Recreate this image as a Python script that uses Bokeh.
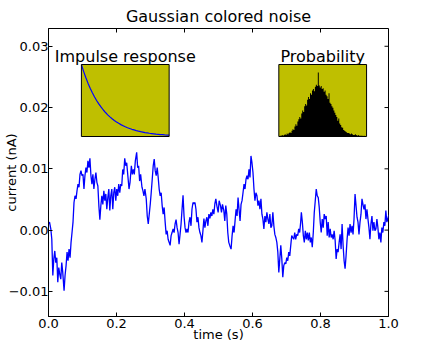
import math
from bokeh.plotting import figure
from bokeh.models import Range1d, LinearAxis, FixedTicker, Label, Title
from bokeh.embed import file_html
from bokeh.resources import INLINE

# ---------------- data ----------------
time_s = [
    0.0, 0.003, 0.0068, 0.0097, 0.0127, 0.0156, 0.0185, 0.0214, 0.0244, 0.0273,
    0.0302, 0.0331, 0.0361, 0.039, 0.0419, 0.0458, 0.0487, 0.0517, 0.0546, 0.0575,
    0.0604, 0.0634, 0.0663, 0.0692, 0.0721, 0.075, 0.078, 0.081, 0.0838, 0.0867,
    0.0897, 0.0926, 0.0955, 0.0984, 0.1014, 0.1043, 0.1072, 0.1101, 0.113, 0.116,
    0.1189, 0.1218, 0.1248, 0.1277, 0.1306, 0.1335, 0.1365, 0.1394, 0.1423, 0.1452,
    0.1481, 0.1511, 0.154, 0.1569, 0.1598, 0.1628, 0.1657, 0.1686, 0.1715, 0.1745,
    0.1774, 0.1803, 0.1832, 0.1862, 0.1891, 0.192, 0.1949, 0.1979, 0.2008, 0.2037,
    0.2066, 0.2096, 0.2125, 0.2154, 0.2183, 0.2212, 0.2242, 0.2271, 0.23,
    0.2368, 0.2398, 0.2437, 0.2466, 0.2495, 0.2524, 0.2554, 0.2593, 0.2622, 0.2651,
    0.268, 0.271, 0.2749, 0.2778, 0.2807, 0.2836, 0.2875, 0.2904, 0.2934, 0.2963,
    0.2992, 0.3021, 0.3051, 0.308, 0.3109, 0.3138, 0.3168, 0.3197, 0.3226, 0.3255,
    0.3285, 0.3314, 0.3343, 0.3372, 0.3401, 0.3431, 0.346, 0.3489, 0.3518, 0.3548,
    0.3577, 0.3606, 0.3635, 0.3665, 0.3694, 0.3723, 0.3752, 0.3782, 0.3811, 0.384,
    0.3869, 0.3899, 0.3928, 0.3957, 0.3986, 0.4016, 0.4045, 0.4074, 0.4103, 0.4133,
    0.4162, 0.4191, 0.422, 0.425, 0.4279, 0.4308, 0.4337, 0.4366, 0.4396, 0.4425,
    0.4454, 0.4483, 0.4513, 0.4542, 0.4571, 0.46, 0.463, 0.4659, 0.4688, 0.4717,
    0.4747, 0.4776, 0.4805, 0.4834, 0.4864, 0.4893, 0.4922,
    0.4951, 0.499, 0.5019, 0.5058, 0.5088, 0.5117, 0.5156, 0.5185, 0.5214, 0.5244,
    0.5273, 0.5302, 0.5331, 0.537, 0.54, 0.5429, 0.5458, 0.5487, 0.5517, 0.5546,
    0.5575, 0.5604, 0.5634, 0.5663, 0.5692, 0.5721, 0.5751, 0.578, 0.5809, 0.5838,
    0.5868, 0.5897, 0.5926, 0.5955, 0.5984, 0.6014, 0.6043, 0.6072, 0.6101, 0.6131,
    0.616, 0.6189, 0.6218, 0.6248, 0.6277, 0.6306, 0.6335, 0.6365, 0.6394, 0.6423,
    0.6452, 0.6482, 0.6511, 0.654, 0.6569, 0.6599, 0.6628, 0.6657, 0.6686, 0.6716,
    0.6745, 0.6774, 0.6803, 0.6832, 0.6862, 0.6891, 0.692, 0.6949, 0.6979, 0.7008,
    0.7037, 0.7066, 0.7096, 0.7125, 0.7154, 0.7183, 0.7213, 0.7242, 0.7271, 0.73,
    0.733, 0.7359, 0.7388, 0.7417,
    0.7437, 0.7466, 0.7495, 0.7524, 0.7554, 0.7583, 0.7612, 0.7641, 0.7671, 0.77,
    0.7729, 0.7758, 0.7788, 0.7817, 0.7846, 0.7875, 0.7904, 0.7934, 0.7963, 0.7992,
    0.8021, 0.8051, 0.808, 0.8109, 0.8138, 0.8168, 0.8197, 0.8226, 0.8255, 0.8285,
    0.8314, 0.8343, 0.8372, 0.8401, 0.8431, 0.846, 0.8489, 0.8518, 0.8548, 0.8577,
    0.8606, 0.8635, 0.8665, 0.8694, 0.8723, 0.8752, 0.8782, 0.8811, 0.884, 0.8869,
    0.8899, 0.8928, 0.8957, 0.8986, 0.9016, 0.9045, 0.9074, 0.9103, 0.9132, 0.9162,
    0.9191, 0.922, 0.9249, 0.9279, 0.9308, 0.9337, 0.9366, 0.9396, 0.9425, 0.9454,
    0.9483, 0.9513, 0.9542, 0.9571, 0.96, 0.963, 0.9659, 0.9688, 0.9717, 0.9747,
    0.9776, 0.9805, 0.9834, 0.9864, 0.9893, 0.9922, 0.9951, 0.998, 1.0009,
]
current_nA = [
    0.0010, 0.0013, 0.0002, -0.0015, -0.0074, -0.0047, -0.0034, -0.0053, -0.0045, -0.0085,
    -0.0061, -0.0072, -0.0080, -0.0053, -0.0069, -0.0099, -0.0074, -0.0058, -0.0036, -0.0050,
    -0.0031, -0.0045, -0.0020, -0.0004, 0.0013, 0.0045, 0.0056, 0.0051, 0.0064, 0.0075,
    0.0070, 0.0091, 0.0097, 0.0089, 0.0091, 0.0067, 0.0089, 0.0102, 0.0094, 0.0113,
    0.0102, 0.0117, 0.0089, 0.0075, 0.0091, 0.0067, 0.0083, 0.0094, 0.0078, 0.0072,
    0.0040, 0.0017, 0.0040, 0.0056, 0.0042, 0.0064, 0.0048, 0.0059, 0.0034, 0.0053,
    0.0067, 0.0032, 0.0056, 0.0067, 0.0034, 0.0061, 0.0070, 0.0048, 0.0067, 0.0056,
    0.0075, 0.0061, 0.0075, 0.0072, 0.0099, 0.0091, 0.0117, 0.0105, 0.0110,
    0.0067, 0.0078, 0.0105, 0.0091, 0.0099, 0.0091, 0.0113, 0.0127, 0.0102, 0.0105,
    0.0080, 0.0091, 0.0070, 0.0064, 0.0056, 0.0067, 0.0051, 0.0023, 0.0010, 0.0026,
    0.0042, 0.0061, 0.0083, 0.0105, 0.0116, 0.0097, 0.0089, 0.0102, 0.0086, 0.0067,
    0.0056, 0.0061, 0.0040, 0.0026, 0.0037, 0.0013, -0.0007, -0.0001, -0.0015, -0.0020,
    -0.0025, -0.0009, -0.0004, 0.0002, -0.0004, 0.0010, 0.0017, 0.0004, -0.0004, -0.0023,
    -0.0007, 0.0010, 0.0034, 0.0057, 0.0023, 0.0004, -0.0004, 0.0002, -0.0004, 0.0013,
    0.0021, 0.0007, 0.0034, 0.0045, 0.0043, 0.0045, 0.0034, 0.0013, 0.0021, 0.0004,
    -0.0004, -0.0009, -0.0020, -0.0001, 0.0019, 0.0004, 0.0015, 0.0021, 0.0007, 0.0026,
    0.0019, 0.0029, 0.0023, 0.0034, 0.0026, 0.0043, 0.0051,
    0.0040, 0.0029, 0.0048, 0.0040, 0.0029, 0.0042, 0.0032, 0.0015, 0.0040, 0.0026,
    -0.0004, -0.0020, -0.0025, -0.0031, -0.0009, 0.0007, -0.0004, 0.0015, 0.0034, 0.0023,
    0.0053, 0.0034, 0.0015, 0.0042, 0.0048, 0.0061, 0.0075, 0.0067, 0.0083, 0.0089,
    0.0083, 0.0099, 0.0086, 0.0121, 0.0110, 0.0094, 0.0067, 0.0048, 0.0061, 0.0056,
    0.0040, 0.0048, 0.0034, 0.0051, 0.0026, 0.0018, 0.0002, 0.0023, 0.0013, 0.0029,
    0.0018, 0.0010, 0.0026, 0.0004, 0.0007, 0.0029, 0.0007, -0.0007, -0.0012, -0.0020,
    -0.0036, -0.0069, -0.0047, -0.0025, -0.0047, -0.0077, -0.0058, -0.0053, -0.0055, -0.0045,
    -0.0050, -0.0036, -0.0042, -0.0025, -0.0009, -0.0012, -0.0015, -0.0004, -0.0015, -0.0007,
    -0.0009, 0.0002, -0.0004, 0.0013,
    0.0029, 0.0013, -0.0009, -0.0020, -0.0001, -0.0015, -0.0004, -0.0017, -0.0004, -0.0020,
    -0.0012, -0.0028, -0.0004, 0.0029, 0.0048, 0.0067, 0.0056, 0.0053, 0.0037, 0.0013,
    -0.0004, 0.0018, 0.0004, 0.0026, 0.0018, 0.0023, -0.0009, 0.0013, -0.0012, 0.0002,
    -0.0012, -0.0007, -0.0015, -0.0001, -0.0017, -0.0047, -0.0031, -0.0036, -0.0020, -0.0007,
    -0.0031, 0.0010, -0.0025, -0.0050, -0.0063, -0.0042, -0.0015, 0.0004, -0.0009, 0.0010,
    -0.0004, 0.0007, -0.0007, 0.0018, 0.0059, 0.0040, 0.0021, 0.0013, -0.0007, 0.0013,
    0.0026, 0.0051, 0.0042, 0.0034, 0.0042, 0.0018, 0.0034, 0.0018, 0.0004, -0.0015,
    0.0010, 0.0023, -0.0001, 0.0013, -0.0001, 0.0002, 0.0018, 0.0004, -0.0015, -0.0004,
    -0.0020, 0.0004, -0.0004, 0.0013, 0.0007, 0.0032, 0.0013, 0.0018, 0.0025,
]

# impulse response (inset 1)
ir_time = [
    0.0, 0.005, 0.01, 0.015, 0.02, 0.025, 0.03, 0.035, 0.04, 0.045,
    0.05, 0.055, 0.06, 0.065, 0.07, 0.075, 0.08, 0.085, 0.09, 0.095,
    0.1, 0.105, 0.11, 0.115, 0.12, 0.125, 0.13, 0.135, 0.14, 0.145,
    0.15, 0.155, 0.16, 0.165, 0.17, 0.175, 0.18, 0.185, 0.19, 0.195, 0.2,
]
ir_value = [
    1.000, 0.905, 0.819, 0.741, 0.670, 0.607, 0.549, 0.497, 0.449, 0.407,
    0.368, 0.333, 0.301, 0.273, 0.247, 0.223, 0.202, 0.183, 0.165, 0.150,
    0.135, 0.122, 0.111, 0.100, 0.091, 0.082, 0.074, 0.067, 0.061, 0.055,
    0.050, 0.045, 0.041, 0.037, 0.033, 0.030, 0.027, 0.025, 0.022, 0.020, 0.018,
]
ir_xlim = (0.0, 0.2)
ir_ylim = (0.0, 1.0)

# histogram of the noise (inset 2), equal-width bins between hist_lo and hist_hi
hist_lo, hist_hi = -0.0128, 0.0164
hist_density = [
    0, 1, 1, 2, 1, 2, 3, 2, 4, 3,
    5, 6, 5, 8, 10, 9, 14, 17, 15, 21,
    24, 27, 25, 32, 36, 34, 42, 45, 43, 51,
    55, 52, 60, 58, 64, 66, 63, 69, 72, 70,
    89, 71, 68, 70, 66, 67, 62, 64, 58, 56,
    52, 60, 47, 45, 42, 40, 36, 33, 30, 27,
    22, 25, 18, 16, 13, 12, 9, 8, 7, 6,
    5, 5, 4, 3, 4, 3, 2, 2, 3, 2,
    1, 2, 1, 1, 1, 1, 0, 1, 0, 0,
]
hist_ylim = (0, 100)

x_ticks = [0.0, 0.2, 0.4, 0.6, 0.8, 1.0]
x_tick_labels = ["0.0", "0.2", "0.4", "0.6", "0.8", "1.0"]
y_ticks = [-0.01, 0.0, 0.01, 0.02, 0.03]
y_tick_labels = ["\u22120.01", "0.00", "0.01", "0.02", "0.03"]
x_lim = (0.0, 1.0)
y_lim = (-0.0141, 0.0329)

# ---------------- layout ----------------
FONT = "DejaVu Sans"
W, H = 424, 344
FL, FR, FT, FB = 47, 388, 28, 316          # frame box inside the figure (px)
FW, FH = FR - FL, FB - FT
TICK = 4                                    # tick length (px), pointing inward
# inset boxes (figure px): left, right, top, bottom
IR_BOX = (80, 168, 64, 136)
HI_BOX = (278, 366, 64, 136)


def inset_ranges(box, xlim, ylim):
    l, r, t, b = box
    fx0, fx1 = (l - FL) / FW, (r - FL) / FW
    fy0, fy1 = (FB - b) / FH, (FB - t) / FH
    sx = (xlim[1] - xlim[0]) / (fx1 - fx0)
    sy = (ylim[1] - ylim[0]) / (fy1 - fy0)
    x0 = xlim[0] - fx0 * sx
    y0 = ylim[0] - fy0 * sy
    return Range1d(start=x0, end=x0 + sx), Range1d(start=y0, end=y0 + sy)


p = figure(width=W, height=H, output_backend="svg", toolbar_location=None,
           x_range=Range1d(*x_lim), y_range=Range1d(*y_lim),
           x_axis_location=None, y_axis_location=None, title=None,
           min_border_left=FL, min_border_right=W - FR,
           min_border_top=FT, min_border_bottom=H - FB)
p.grid.visible = False
p.outline_line_color = "black"
p.outline_line_width = 1
p.background_fill_color = "white"
p.border_fill_color = "white"


def make_axis(ticks, labels, label_text, label_standoff, tick_standoff):
    ax = LinearAxis(ticker=FixedTicker(ticks=ticks),
                    major_label_overrides={t: s for t, s in zip(ticks, labels)})
    ax.axis_line_color = "black"
    ax.major_tick_line_color = "black"
    ax.major_tick_in = TICK
    ax.major_tick_out = 0
    ax.minor_tick_line_color = None
    ax.major_label_text_font = FONT
    ax.major_label_text_font_size = "13px"
    ax.major_label_text_color = "black"
    ax.major_label_standoff = tick_standoff
    ax.axis_label = label_text
    ax.axis_label_text_font = FONT
    ax.axis_label_text_font_size = "13px"
    ax.axis_label_text_font_style = "normal"
    ax.axis_label_text_color = "black"
    ax.axis_label_text_line_height = 1.0
    ax.axis_label_standoff = label_standoff
    return ax

p.add_layout(make_axis(x_ticks, x_tick_labels, "time (s)", -4, 2), "below")
p.add_layout(make_axis(y_ticks, y_tick_labels, "current (nA)", -13, 0), "left")
p.add_layout(Title(text="Gaussian colored noise", align="center", text_font=FONT,
                   text_font_size="16px", text_font_style="normal",
                   text_color="black", standoff=6), "above")

# inward ticks on the top and right edges (matplotlib style)
dx = (x_lim[1] - x_lim[0]) * TICK / FW
dy = (y_lim[1] - y_lim[0]) * TICK / FH
p.segment(x0=x_ticks, y0=[y_lim[1]] * len(x_ticks), x1=x_ticks,
          y1=[y_lim[1] - dy] * len(x_ticks), line_color="black", line_width=1)
p.segment(x0=[x_lim[1]] * len(y_ticks), y0=y_ticks, x1=[x_lim[1] - dx] * len(y_ticks),
          y1=y_ticks, line_color="black", line_width=1)

# main trace
p.line(time_s, current_nA, line_color="#0000ff", line_width=1.3)

# insets via extra ranges
irx, iry = inset_ranges(IR_BOX, ir_xlim, ir_ylim)
hx, hy = inset_ranges(HI_BOX, (hist_lo, hist_hi), hist_ylim)
p.extra_x_ranges = {"irx": irx, "hx": hx}
p.extra_y_ranges = {"iry": iry, "hy": hy}

OLIVE = "#bfbf00"
# impulse response inset
p.quad(left=[ir_xlim[0]], right=[ir_xlim[1]], bottom=[ir_ylim[0]], top=[ir_ylim[1]],
       x_range_name="irx", y_range_name="iry", fill_color=OLIVE, line_color=None)
p.line(ir_time, ir_value, x_range_name="irx", y_range_name="iry",
       line_color="#0000ff", line_width=1.2)
p.quad(left=[ir_xlim[0]], right=[ir_xlim[1]], bottom=[ir_ylim[0]], top=[ir_ylim[1]],
       x_range_name="irx", y_range_name="iry", fill_color=None, line_color="black",
       line_width=1)
p.add_layout(Label(x=(ir_xlim[0] + ir_xlim[1]) / 2, y=ir_ylim[1], y_offset=8,
                   x_range_name="irx", y_range_name="iry", text="Impulse response",
                   text_align="center", text_baseline="alphabetic",
                   text_font=FONT, text_font_size="16px", text_color="black"))

# histogram inset
n = len(hist_density)
bw = (hist_hi - hist_lo) / n
edges = [hist_lo + i * bw for i in range(n + 1)]
p.quad(left=[hist_lo], right=[hist_hi], bottom=[hist_ylim[0]], top=[hist_ylim[1]],
       x_range_name="hx", y_range_name="hy", fill_color=OLIVE, line_color=None)
p.varea_step(x=edges, y1=[0] * (n + 1), y2=hist_density + [hist_density[-1]],
             step_mode="after", x_range_name="hx", y_range_name="hy",
             fill_color="black")
p.quad(left=[hist_lo], right=[hist_hi], bottom=[hist_ylim[0]], top=[hist_ylim[1]],
       x_range_name="hx", y_range_name="hy", fill_color=None, line_color="black",
       line_width=1)
p.add_layout(Label(x=(hist_lo + hist_hi) / 2, y=hist_ylim[1], y_offset=8,
                   x_range_name="hx", y_range_name="hy", text="Probability",
                   text_align="center", text_baseline="alphabetic",
                   text_font=FONT, text_font_size="16px", text_color="black"))

open("out.html", "w").write(file_html(p, INLINE))
